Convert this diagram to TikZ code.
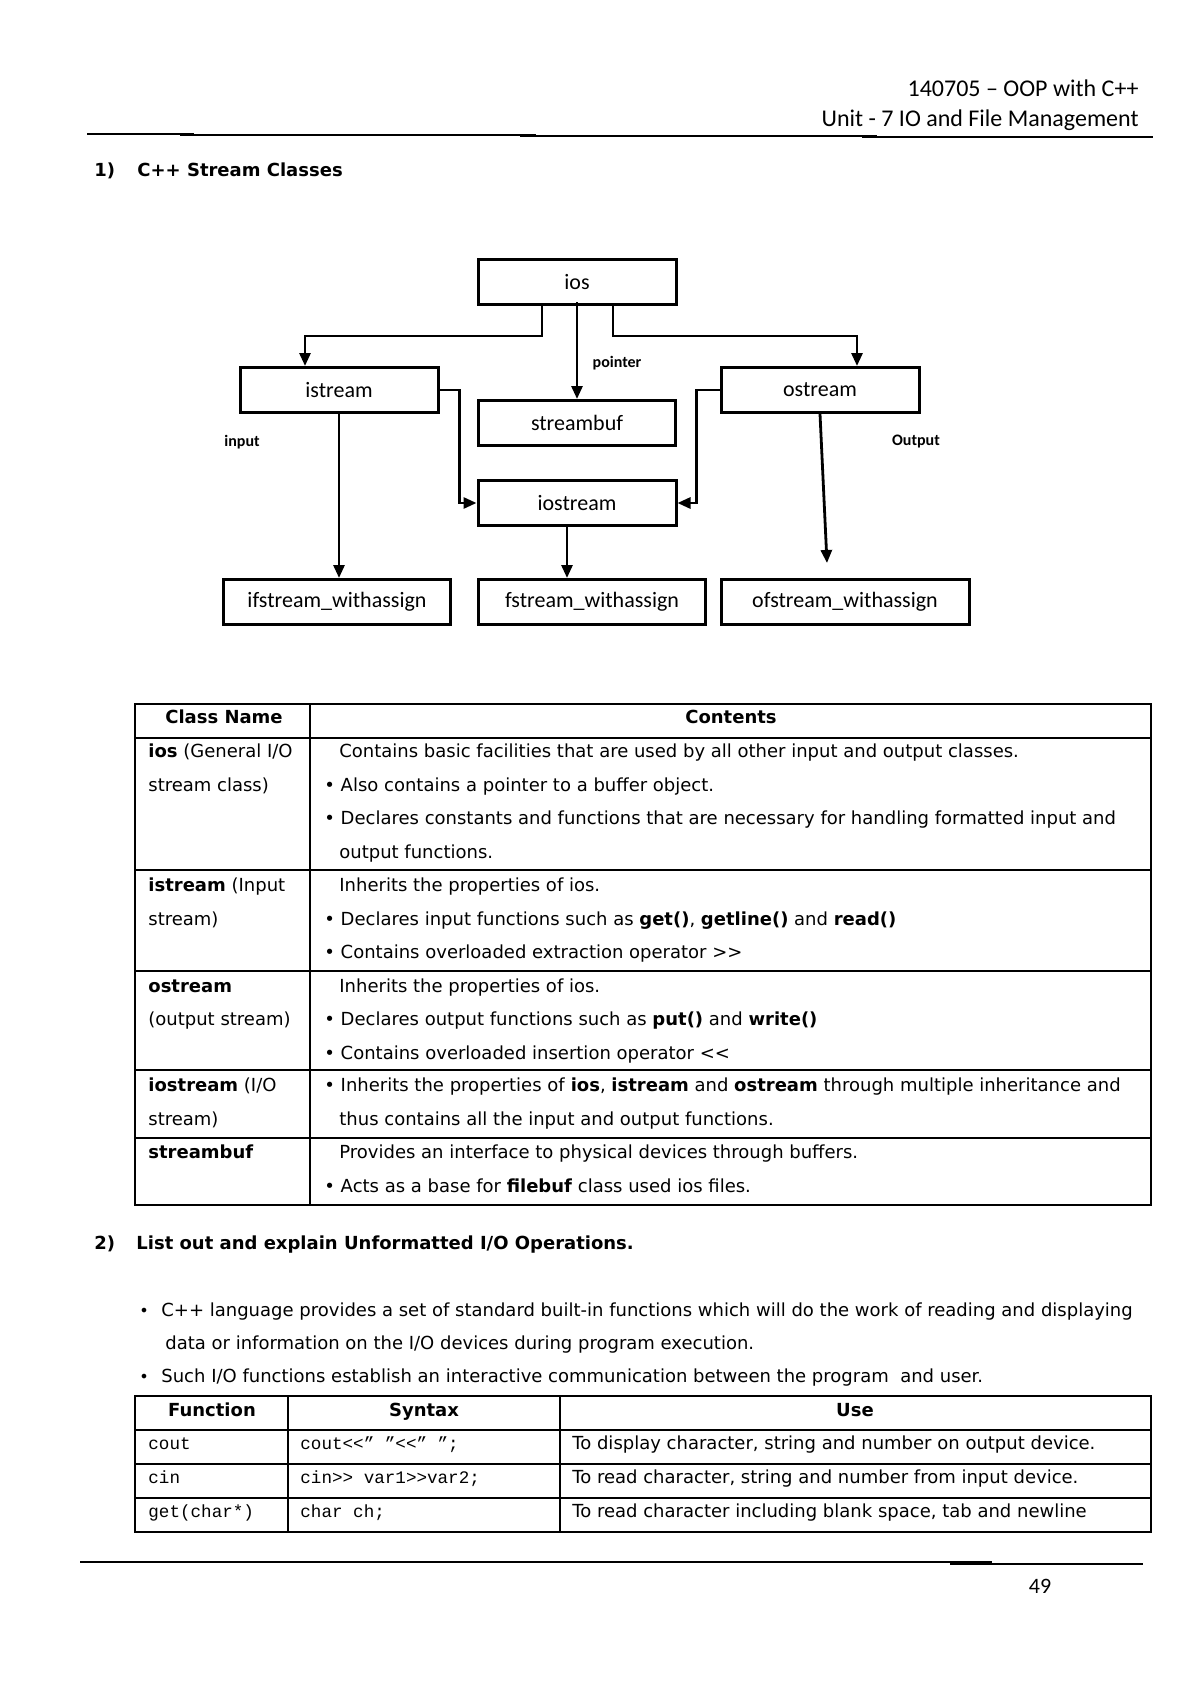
\documentclass[tikz,border=0pt]{standalone}
\usepackage{fontspec}
\setmainfont{DejaVu Sans}
\setmonofont{Liberation Mono}
\newfontfamily\calib{Carlito}
\usetikzlibrary{arrows.meta}

\tikzset{
  cls/.style={draw,line width=1.5pt,minimum height=22.5pt,inner sep=0pt,
    font=\calib\fontsize{11}{13}\selectfont},
  link/.style={line width=1.4pt,-{Triangle[length=6.5pt,width=5.5pt]}},
  tag/.style={inner sep=0pt,font=\calib\bfseries\fontsize{8}{10}\selectfont},
  txt/.style={anchor=mid west,inner sep=0pt,yshift=-1pt,font=\fontsize{9}{11}\selectfont},
  bold/.style={txt,font=\bfseries\fontsize{9}{11}\selectfont},
  headc/.style={anchor=mid,inner sep=0pt,yshift=-1pt,font=\bfseries\fontsize{9}{11}\selectfont},
  code/.style={anchor=mid west,inner sep=0pt,yshift=-1pt,font=\ttfamily\fontsize{8.8}{11}\selectfont},
  grid/.style={line width=1.2pt},
  rule/.style={line width=1.3pt},
}

\begin{document}
\begin{tikzpicture}[x=0.5pt,y=-0.5pt]
    \useasboundingbox (0,0) rectangle (1200,1696);

    % page header
    \node[anchor=base east,inner sep=0pt,font=\calib\fontsize{12}{14}\selectfont] (course) at (1139,97) {140705 – OOP with C++};
    \node[anchor=base east,inner sep=0pt,font=\calib\fontsize{12}{14}\selectfont] (unit) at (1139,127) {Unit - 7 IO and File Management};
    \draw[rule] (87,134) -- (194,134);
    \draw[rule] (180,135) -- (536,135);
    \draw[rule] (520,136) -- (877,136);
    \draw[rule] (862,137) -- (1153,137);

    \node[bold] (num1) at (94,169) {1)};
    \node[bold] (title1) at (137,169) {C++ Stream Classes};

    % class hierarchy
    \node[cls,minimum width=99pt] (ios) at (577,282) {ios};
    \node[cls,minimum width=99pt] (istream) at (339,390) {istream};
    \node[cls,minimum width=98.5pt] (streambuf) at (577,423) {streambuf};
    \node[cls,minimum width=99pt] (ostream) at (820,390) {ostream};
    \node[cls,minimum width=99pt] (iostream) at (577,503) {iostream};
    \node[cls,minimum width=113.5pt] (ifstream) at (337,602) {ifstream\_withassign};
    \node[cls,minimum width=113.5pt] (fstream) at (592,602) {fstream\_withassign};
    \node[cls,minimum width=124pt] (ofstream) at (845,602) {ofstream\_withassign};

    \draw[link] ([xshift=-17.5pt]ios.south) -- ++(0,30) -| ([xshift=-17pt]istream.north);
    \draw[link] ([yshift=2pt]ios.south) -- (streambuf.north);
    \draw[link] ([xshift=18pt]ios.south) -- ++(0,30) -| ([xshift=18.5pt]ostream.north);
    \draw[link] (istream.east) -- ++(20,0) |- (iostream.west);
    \draw[link] (ostream.west) -- ++(-23,0) |- (iostream.east);
    \draw[link] (istream.south) -- (istream.south |- ifstream.north);
    \draw[link] ([xshift=-5pt]iostream.south) -- ([xshift=-5pt]iostream.south |- fstream.north);
    \draw[link] (ostream.south) -- ([xshift=-9pt,yshift=7.5pt]ofstream.north);

    \node[tag] (pointer) at (617,363) {pointer};
    \node[tag] (input) at (242,442) {input};
    \node[tag] (output) at (916,442) {Output};

    % table of classes
    \draw[grid] (135,704) rectangle (1151,1205);
    \draw[grid] (310,704) -- (310,1205);
    \foreach \y in {738,870,971,1070,1138}
    {
      \draw[grid] (135,\y) -- (1151,\y);
    }
    \node[headc] (hname) at (224,716) {Class Name};
    \node[headc] (hcont) at (731,716) {Contents};
    \foreach \y/\entry [count=\i] in {750/{\textbf{ios} (General I/O}, 784/{stream class)},
        884/{\textbf{istream} (Input}, 918/{stream)}, 985/{\textbf{ostream}}, 1018/{(output stream)},
        1084/{\textbf{iostream} (I/O}, 1118/{stream)}, 1151/{\textbf{streambuf}}}
    {
      \node[txt] (name\i) at (148,\y) {\entry};
    }
    \foreach \x/\y/\entry [count=\i] in {
        339/750/{Contains basic facilities that are used by all other input and output classes.},
        324/784/{\textbullet\ Also contains a pointer to a buffer object.},
        324/817/{\textbullet\ Declares constants and functions that are necessary for handling formatted input and},
        339/851/{output functions.},
        339/884/{Inherits the properties of ios.},
        324/918/{\textbullet\ Declares input functions such as \textbf{get()}, \textbf{getline()} and \textbf{read()}},
        324/951/{\textbullet\ Contains overloaded extraction operator >{}>},
        339/985/{Inherits the properties of ios.},
        324/1018/{\textbullet\ Declares output functions such as \textbf{put()} and \textbf{write()}},
        324/1052/{\textbullet\ Contains overloaded insertion operator <{}<},
        324/1084/{\textbullet\ Inherits the properties of \textbf{ios}, \textbf{istream} and \textbf{ostream} through multiple inheritance and},
        339/1118/{thus contains all the input and output functions.},
        339/1151/{Provides an interface to physical devices through buffers.},
        324/1185/{\textbullet\ Acts as a base for \textbf{filebuf} class used ios files.}}
    {
      \node[txt] (cont\i) at (\x,\y) {\entry};
    }

    % unformatted I/O
    \node[bold] (num2) at (94,1242) {2)};
    \node[bold] (title2) at (136,1242) {List out and explain Unformatted I/O Operations.};
    \foreach \y [count=\i] in {1309,1375}
    {
      \node[txt,font=\fontsize{8}{9}\selectfont] (dot\i) at (139,\y) {\textbullet};
    }
    \node[txt] (line1) at (161,1309) {C++ language provides a set of standard built-in functions which will do the work of reading and displaying};
    \node[txt] (line2) at (165,1342) {data or information on the I/O devices during program execution.};
    \node[txt] (line3) at (161,1375) {Such I/O functions establish an interactive communication between the program \ and user.};

    \draw[grid] (135,1396) rectangle (1151,1532);
    \foreach \x in {288,560}
    {
      \draw[grid] (\x,1396) -- (\x,1532);
    }
    \foreach \y in {1430,1464,1498}
    {
      \draw[grid] (135,\y) -- (1151,\y);
    }
    \node[headc] (hfunc) at (212,1409) {Function};
    \node[headc] (hsyn) at (424,1409) {Syntax};
    \node[headc] (huse) at (855,1409) {Use};
    \foreach \y/\fn/\syn/\use [count=\i] in {
        1442/cout/{cout<{}<” ”<{}<” ”;}/{To display character, string and number on output device.},
        1476/cin/{cin>{}> var1>{}>var2;}/{To read character, string and number from input device.},
        1510/{get(char*)}/{char ch;}/{To read character including blank space, tab and newline}}
    {
      \node[code] (fn\i) at (148,\y) {\fn};
      \node[code] (syn\i) at (300,\y) {\syn};
      \node[txt] (use\i) at (572,\y) {\use};
    }

    % page footer
    \draw[rule] (80,1562) -- (992,1562);
    \draw[rule] (950,1564) -- (1143,1564);
    \node[inner sep=0pt,font=\calib\fontsize{11}{13}\selectfont] (page) at (1040,1586) {49};
\end{tikzpicture}
\end{document}
